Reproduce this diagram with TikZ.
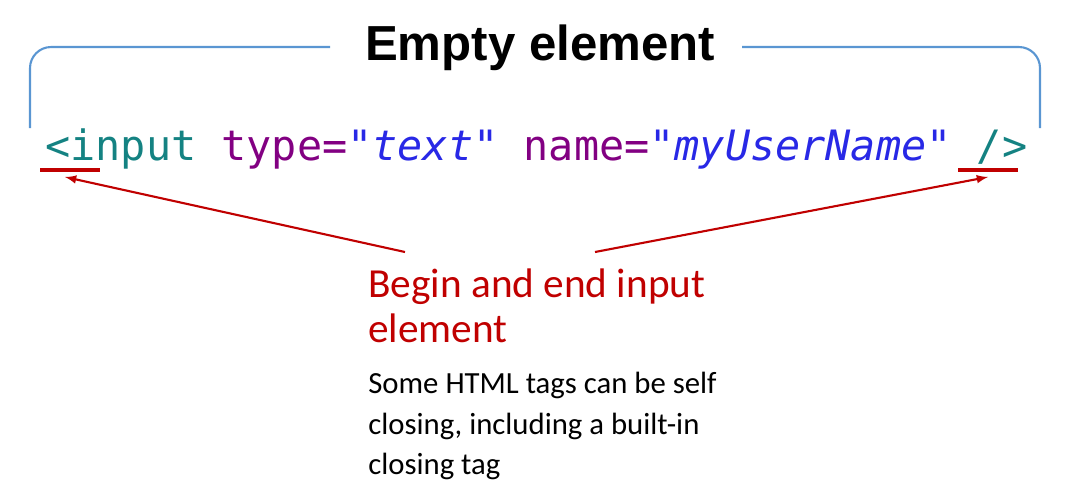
\documentclass[tikz,border=0pt]{standalone}
\usepackage{fontspec}
\setmainfont{Carlito}
\newfontfamily\headfont{Liberation Sans}
\setmonofont{DejaVu Sans Mono}
\usetikzlibrary{positioning}
\definecolor{tagcol}{RGB}{20,130,130}
\definecolor{attrcol}{RGB}{130,0,130}
\definecolor{strcol}{RGB}{40,40,230}
\definecolor{notecol}{RGB}{192,0,0}
\definecolor{bracecol}{RGB}{90,150,210}

\begin{document}
\begin{tikzpicture}[x=0.02cm,y=-0.02cm]
\useasboundingbox (0,0) rectangle (1067,488);
% Title and bracket
\node[font=\headfont\bfseries\fontsize{28}{32}\selectfont,anchor=base] (title) at (540,60) {Empty element};
\draw[bracecol,line width=1.2pt,rounded corners=12pt] (30,128) -- (30,47) -- (330,47);
\draw[bracecol,line width=1.2pt,rounded corners=12pt] (742,47) -- (1040,47) -- (1040,128);

% Code line
\node[font=\ttfamily\fontsize{23.8}{26}\selectfont,anchor=base west,inner sep=0pt] (code) at (45,160)
  {\textcolor{tagcol}{<input} \textcolor{attrcol}{type=}\textcolor{strcol}{\itshape"text"} \textcolor{attrcol}{name=}\textcolor{strcol}{\itshape"myUserName"} \textcolor{tagcol}{/>}};

% Underlines
\coordinate (bl) at (40,170);
\coordinate (br) at (100,170);
\coordinate (el) at (958,170);
\coordinate (er) at (1018,170);
\draw[notecol,line width=2pt] (bl) -- (br);
\draw[notecol,line width=2pt] (el) -- (er);

% Note
\node[font=\fontsize{23.5}{26}\selectfont,text=notecol,align=left,anchor=north west,inner sep=0pt] (note) at (368,268)
  {Begin and end input\\element};
\node[font=\fontsize{17.5}{23}\selectfont,align=left,inner sep=0pt,anchor=north west] (desc) at (368,372)
  {Some HTML tags can be self\\closing, including a built-in\\closing tag};

% Arrows
\coordinate (startl) at (405,252);
\coordinate (startr) at (595,252);
\coordinate (tipl) at (65,177);
\coordinate (tipr) at (988,177);
\draw[notecol,line width=1.2pt,-latex] (startl) -- (tipl);
\draw[notecol,line width=1.2pt,-latex] (startr) -- (tipr);
\end{tikzpicture}
\end{document}
